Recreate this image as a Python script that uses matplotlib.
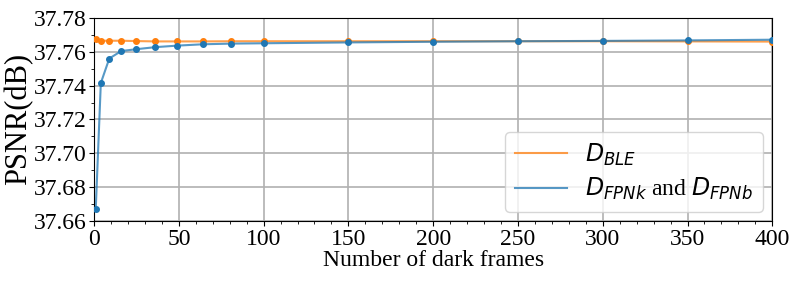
from matplotlib import pyplot as plt
from matplotlib.ticker import MultipleLocator
import numpy as np

plt.rcParams["font.family"] = ["Liberation Serif", "DejaVu Serif"]
plt.rcParams["mathtext.fontset"] = "dejavusans"

frames = [1, 4, 9, 16, 25, 36, 49, 64, 81, 100, 150, 200, 250, 300, 350, 400]
psnr_ble = [37.7674, 37.7665, 37.7665, 37.7665, 37.7663, 37.7661, 37.7661, 37.7661,
            37.7662, 37.7662, 37.7662, 37.7662, 37.7662, 37.7662, 37.7661, 37.7660]
psnr_fpn = [37.6670, 37.7415, 37.7560, 37.7604, 37.7615, 37.7627, 37.7636, 37.7644,
            37.7648, 37.7650, 37.7655, 37.7659, 37.7662, 37.7664, 37.7667, 37.7671]

fig = plt.figure(figsize=(7.97, 2.84), dpi=100)
ax = fig.add_axes([0.118, 0.222, 0.851, 0.715])

ax.plot(frames, psnr_ble, color="#ff7f0e", lw=1.5, alpha=0.75, label=r"$D_{BLE}$")
ax.scatter(frames, psnr_ble, color="#ff7f0e", s=16, zorder=3)
ax.plot(frames, psnr_fpn, color="#1f77b4", lw=1.5, alpha=0.75,
        label=r"$D_{FPNk}$ and $D_{FPNb}$")
ax.scatter(frames, psnr_fpn, color="#1f77b4", s=16, zorder=4)

ax.set_xlim(0, 400)
ax.set_ylim(37.66, 37.78)
ax.xaxis.set_major_locator(MultipleLocator(50))
ax.xaxis.set_minor_locator(MultipleLocator(10))
ax.yaxis.set_major_locator(MultipleLocator(0.02))
ax.yaxis.set_minor_locator(MultipleLocator(0.01))
ax.yaxis.set_major_formatter(plt.FormatStrFormatter("%.2f"))
ax.tick_params(labelsize=17, pad=2)
ax.grid(True, color="#b0b0b0", lw=1.2)
ax.set_axisbelow(True)

ax.set_xlabel("Number of dark frames", fontsize=17, labelpad=0)
ax.set_ylabel("PSNR(dB)", fontsize=22, labelpad=0)
ax.legend(loc="lower right", fontsize=17, handlelength=2.2,
          borderaxespad=0.4, labelspacing=0.35)

fig.savefig("out.png")
plt.close()
